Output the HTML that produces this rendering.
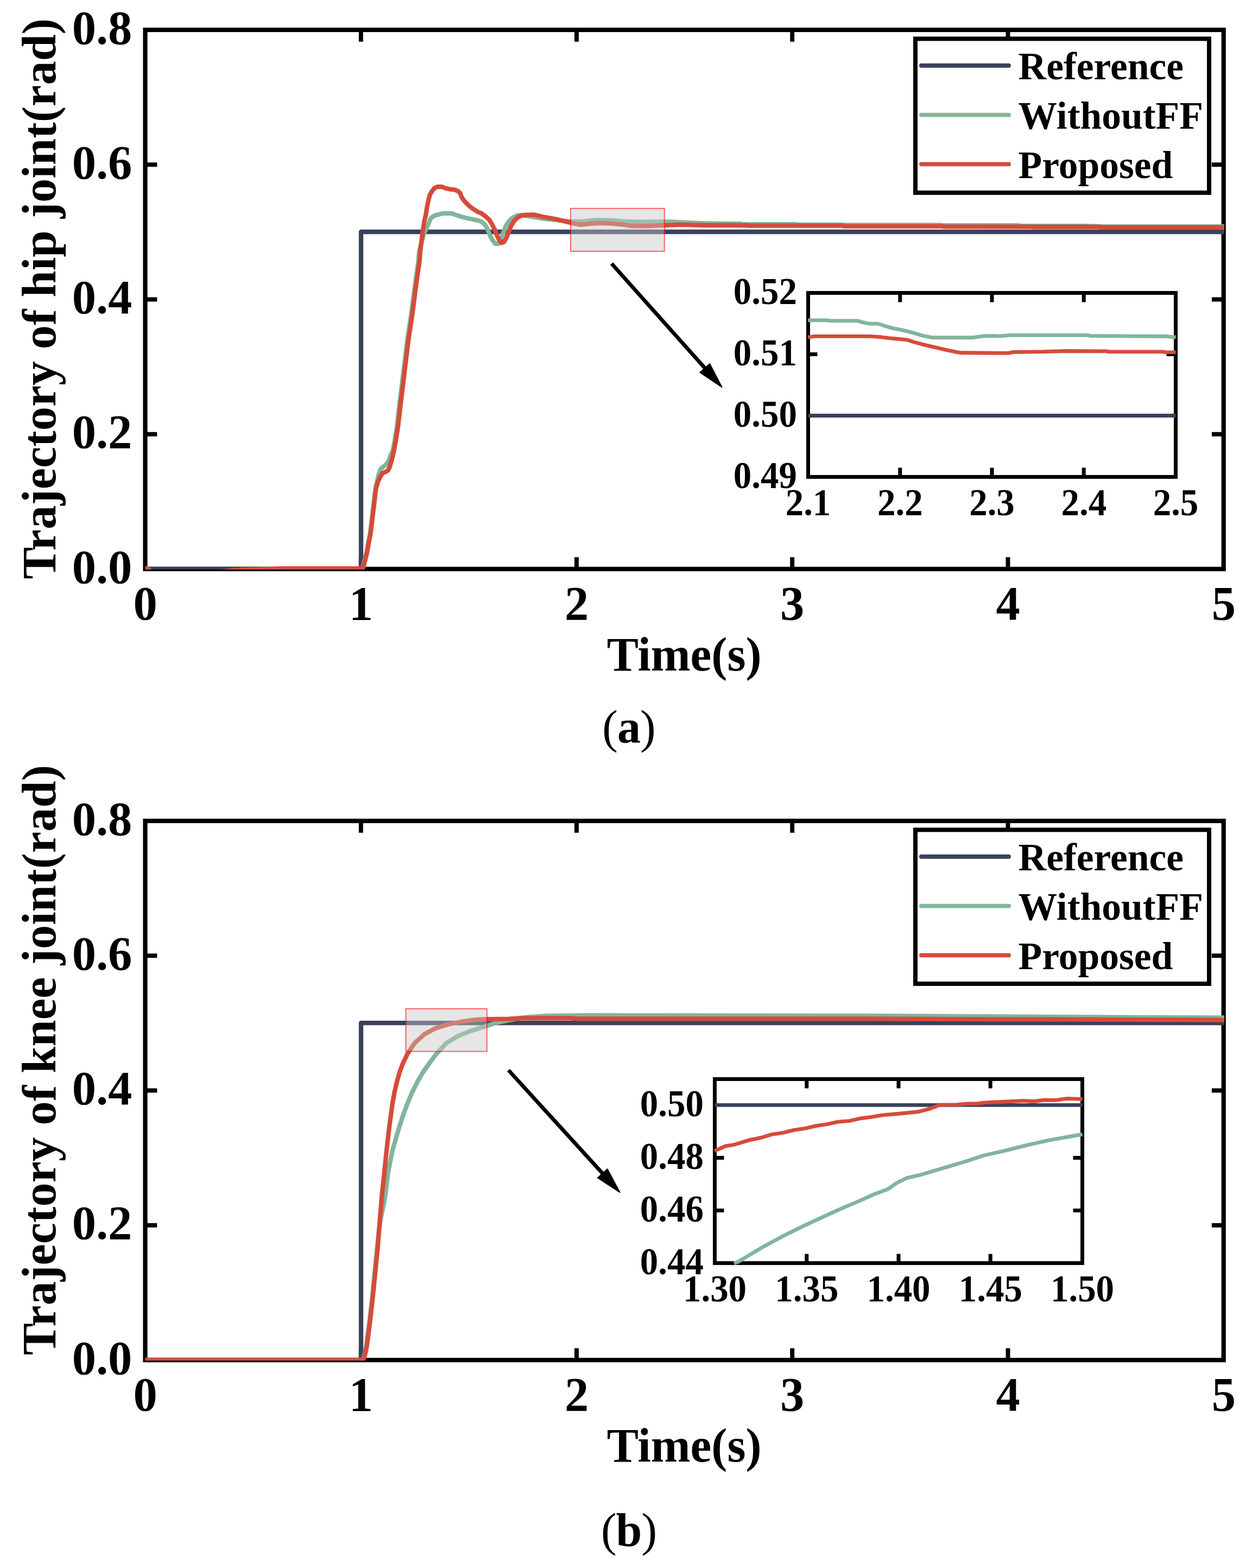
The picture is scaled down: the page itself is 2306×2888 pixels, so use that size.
<!DOCTYPE html><html><head><meta charset="utf-8"><title>Trajectory</title><style>html,body{margin:0;padding:0;background:#fff;}svg{display:block;}text{font-family:'Liberation Serif', 'Times New Roman', serif;fill:#000;}</style></head><body>
<svg width="2306" height="2888" viewBox="0 0 2306 2888">
<rect x="0" y="0" width="2306" height="2888" fill="#fff"/>
<rect x="267.5" y="55" width="1986.2" height="993" fill="none" stroke="#000" stroke-width="8.2"/>
<path d="M664.8 1048L664.8 1026.2 M664.8 55L664.8 76.8 M1062 1048L1062 1026.2 M1062 55L1062 76.8 M1459.2 1048L1459.2 1026.2 M1459.2 55L1459.2 76.8 M1856.5 1048L1856.5 1026.2 M1856.5 55L1856.5 76.8 M267.5 799.8L289.3 799.8 M2253.8 799.8L2231.9 799.8 M267.5 551.5L289.3 551.5 M2253.8 551.5L2231.9 551.5 M267.5 303.2L289.3 303.2 M2253.8 303.2L2231.9 303.2" stroke="#000" stroke-width="7.9" fill="none"/>
<clipPath id="clip0"><rect x="267.5" y="45" width="1987.5" height="1003.8"/></clipPath>
<g clip-path="url(#clip0)">
<polyline points="267.5,1047.9 665,1047.9 665,427 2255,427" fill="none" stroke="#3a415b" stroke-width="8.3" stroke-linejoin="round" />
<polyline points="267.5,1047.5 271.5,1047.5 279,1054.5 400,1054.5 431,1050.8 453,1049.6 494,1048.6 521,1047.7 667,1047.7 668.7,1043.3 670.5,1036.2 674.9,1018.6 678,1001 681.5,983.3 683.7,965.7 685.7,948.1 687.9,930.5 689.9,912.9 691.6,899.6 694.5,886.4 698,872 701.6,863.3 706,859.5 710,856.5 714,852 717,846 719.6,838 723.6,829.8 726.9,812.2 731.1,785.7 734.1,759.3 737.2,732.9 740.6,706.4 743.7,680 750.3,626.2 757.6,577.5 763.9,528.7 770.8,480 772,463.6 775,451 778,440.5 780.6,431 784.8,421.8 789.3,412.5 792.5,403.2 797,399 803.2,396.1 814.8,393.2 832.3,393.2 843.9,397.3 855.5,400.8 870,403.8 878.7,405.6 886.3,407.9 893.2,413.7 897.9,421.8 901.9,432.3 906.6,441.6 911.8,448.5 917.6,449.1 922.3,441 926.9,429.4 931,417.7 936.8,407.9 944.3,400.9 953,396.6 962.9,396.3 974.5,398.4 1000,402.6 1023,405 1050,408 1075.9,407.6 1096.8,405.5 1128.2,405.9 1149,408 1170,408.7 1232.7,408.3 1300,411.5 1364,412.1 1365,413.1 1467,413.1 1468,413.8 1553,413.8 1554,414.4 1732,414.4 1733,415.1 1877,415.1 1878,416 2002,416.2 2029,417.2 2255,417.2" fill="none" stroke="#82b59b" stroke-width="8.3" stroke-linejoin="round" />
<polyline points="267.5,1047 271.5,1047 279,1054 400,1054 431,1050.3 453,1049.1 494,1048.1 521,1047.2 668,1047.2 669.7,1043.3 671.5,1036.2 675.9,1018.6 679,1001 682.5,983.3 684.7,965.7 686.7,948.1 688.9,930.5 690.9,912.9 692.6,899.6 696.4,886.4 700.8,877.6 704.5,871.5 710.5,869 714.5,866.5 717.5,861 721.6,847.4 725.6,829.8 728.9,812.2 733.1,785.7 736.1,759.3 739.2,732.9 742.6,706.4 745.7,680 752.3,626.2 759.6,577.5 765.9,528.7 772.8,480 774,463.6 776.3,445 778.6,426.5 781.4,407.9 784.1,396.8 786.4,382.3 788.7,370.7 791.6,359 795.7,352.1 800.3,346.3 806.1,343.9 814.8,344.2 820.7,346.8 829.4,348.6 838.1,349.7 843.9,352.1 847.9,356.1 849.7,361.9 853.2,367.7 858.4,373.6 864.2,379.4 870,383.8 878.7,389.5 887.4,393.4 894.4,398.6 900.8,404.4 906,412.5 910.7,421.8 914.7,432.3 918.8,441 923.4,447.4 928.1,445.6 932.7,438.1 936.8,427.6 941.4,416 946.7,407.3 953,400.9 960,396.8 970,395.7 982.9,395.3 1000,399.4 1023.6,403.5 1044.5,408.7 1057,411.8 1069.6,413.9 1086.4,411.8 1107.3,410.8 1128.2,411.8 1149,413.9 1161.6,416 1190.9,416.4 1222.2,415 1253.6,413.9 1300,415 1377,414.8 1378,415.6 1553,415.6 1554,416.6 1737,416.6 1738,417.4 1900,417.6 1901,418 2027,418 2028,419 2255,419" fill="none" stroke="#d64b3a" stroke-width="8.3" stroke-linejoin="round" />
</g>
<text x="267.5" y="1141" font-size="88.5" font-weight="bold" text-anchor="middle" >0</text>
<text x="664.8" y="1141" font-size="88.5" font-weight="bold" text-anchor="middle" >1</text>
<text x="1062" y="1141" font-size="88.5" font-weight="bold" text-anchor="middle" >2</text>
<text x="1459.2" y="1141" font-size="88.5" font-weight="bold" text-anchor="middle" >3</text>
<text x="1856.5" y="1141" font-size="88.5" font-weight="bold" text-anchor="middle" >4</text>
<text x="2253.8" y="1141" font-size="88.5" font-weight="bold" text-anchor="middle" >5</text>
<text x="243.3" y="1073.5" font-size="88.5" font-weight="bold" text-anchor="end" >0.0</text>
<text x="243.3" y="825.2" font-size="88.5" font-weight="bold" text-anchor="end" >0.2</text>
<text x="243.3" y="577" font-size="88.5" font-weight="bold" text-anchor="end" >0.4</text>
<text x="243.3" y="328.8" font-size="88.5" font-weight="bold" text-anchor="end" >0.6</text>
<text x="243.3" y="80.5" font-size="88.5" font-weight="bold" text-anchor="end" >0.8</text>
<text x="0" y="0" font-size="88.5" font-weight="bold" text-anchor="middle" transform="translate(1260.1,1235) scale(0.988,1)">Time(s)</text>
<text x="0" y="0" font-size="88.5" font-weight="bold" text-anchor="middle" transform="translate(102,550.2) rotate(-90)">Trajectory of hip joint(rad)</text>
<rect x="1051" y="383.9" width="172.8" height="78.9" fill="rgb(199,199,199)" fill-opacity="0.44" stroke="#ff0000" stroke-opacity="0.57" stroke-width="2.1"/>
<line x1="1126.5" y1="485.5" x2="1300.9" y2="680.9" stroke="#000" stroke-width="7"/>
<polygon points="1329.5,713 1289.3,685.9 1307.2,669.9" fill="#000" stroke="#000" stroke-width="2" stroke-linejoin="round"/>
<rect x="1686" y="71.4" width="541" height="283.5" fill="#fff" stroke="#000" stroke-width="8"/>
<line x1="1697" y1="120.8" x2="1858" y2="120.8" stroke="#3a415b" stroke-width="7.9" stroke-linecap="round"/>
<text x="1875.6" y="145.8" font-size="71.5" font-weight="bold" text-anchor="start" >Reference</text>
<line x1="1697" y1="211.6" x2="1858" y2="211.6" stroke="#82b59b" stroke-width="7.9" stroke-linecap="round"/>
<text x="1875.6" y="237" font-size="71.5" font-weight="bold" text-anchor="start" >WithoutFF</text>
<line x1="1697" y1="302.4" x2="1858" y2="302.4" stroke="#d64b3a" stroke-width="7.9" stroke-linecap="round"/>
<text x="1875.6" y="327.6" font-size="71.5" font-weight="bold" text-anchor="start" >Proposed</text>
<rect x="1488.5" y="539.5" width="677" height="338.9" fill="#fff" stroke="#000" stroke-width="7"/>
<path d="M1657.8 878.4L1657.8 861.4 M1657.8 539.5L1657.8 556.5 M1827 878.4L1827 861.4 M1827 539.5L1827 556.5 M1996.2 878.4L1996.2 861.4 M1996.2 539.5L1996.2 556.5 M1488.5 652.5L1505.5 652.5 M2165.5 652.5L2148.5 652.5 M1488.5 765.4L1505.5 765.4 M2165.5 765.4L2148.5 765.4" stroke="#000" stroke-width="7" fill="none"/>
<polyline points="1488.5,765.5 2165.5,765.5" fill="none" stroke="#3a415b" stroke-width="6.9" stroke-linejoin="round" />
<polyline points="1488.1,589.9 1524.7,589.9 1528.8,590.9 1579.6,590.9 1587.7,593.4 1599.9,596 1618.2,596.4 1630.4,600.5 1642.6,604.1 1662.9,608.2 1683.3,613.3 1699.5,618.4 1717.8,621.8 1791,621.8 1805.2,619.8 1813.3,618.8 1830,618.8 1840.3,619.1 1860.7,617.4 2005,617.4 2007,618.5 2076.1,619.1 2147.2,619.5 2165.5,621.1" fill="none" stroke="#82b59b" stroke-width="6.9" stroke-linejoin="round" />
<polyline points="1488.1,621.2 1500.3,619.4 1602,619.4 1622.3,620.8 1642.6,623.3 1671.1,625.9 1683.3,630 1703.6,635.4 1723.9,640.1 1744.2,644.8 1768.6,649.7 1830,650.3 1856.6,650.4 1866.7,648.5 1917.6,647.9 1964.3,646.5 2039.5,646.9 2041.5,647.9 2143.2,647.9 2145.2,648.9 2165.5,648.9" fill="none" stroke="#d64b3a" stroke-width="6.9" stroke-linejoin="round" />
<text x="0" y="0" font-size="70.5" font-weight="bold" text-anchor="middle" transform="translate(1488.5,949.4) scale(0.95,1)">2.1</text>
<text x="0" y="0" font-size="70.5" font-weight="bold" text-anchor="middle" transform="translate(1657.8,949.4) scale(0.95,1)">2.2</text>
<text x="0" y="0" font-size="70.5" font-weight="bold" text-anchor="middle" transform="translate(1827,949.4) scale(0.95,1)">2.3</text>
<text x="0" y="0" font-size="70.5" font-weight="bold" text-anchor="middle" transform="translate(1996.3,949.4) scale(0.95,1)">2.4</text>
<text x="0" y="0" font-size="70.5" font-weight="bold" text-anchor="middle" transform="translate(2165.5,949.4) scale(0.95,1)">2.5</text>
<text x="0" y="0" font-size="70.5" font-weight="bold" text-anchor="end" transform="translate(1468,560) scale(0.95,1)">0.52</text>
<text x="0" y="0" font-size="70.5" font-weight="bold" text-anchor="end" transform="translate(1468,673) scale(0.95,1)">0.51</text>
<text x="0" y="0" font-size="70.5" font-weight="bold" text-anchor="end" transform="translate(1468,785.9) scale(0.95,1)">0.50</text>
<text x="0" y="0" font-size="70.5" font-weight="bold" text-anchor="end" transform="translate(1468,898.9) scale(0.95,1)">0.49</text>
<text x="1158" y="1368" font-size="86" text-anchor="middle" letter-spacing="-1"><tspan>(</tspan><tspan font-weight="bold">a</tspan><tspan>)</tspan></text>
<rect x="267.5" y="1512" width="1986.2" height="993" fill="none" stroke="#000" stroke-width="8.2"/>
<path d="M664.8 2505L664.8 2483.2 M664.8 1512L664.8 1533.8 M1062 2505L1062 2483.2 M1062 1512L1062 1533.8 M1459.2 2505L1459.2 2483.2 M1459.2 1512L1459.2 1533.8 M1856.5 2505L1856.5 2483.2 M1856.5 1512L1856.5 1533.8 M267.5 2256.8L289.3 2256.8 M2253.8 2256.8L2231.9 2256.8 M267.5 2008.5L289.3 2008.5 M2253.8 2008.5L2231.9 2008.5 M267.5 1760.2L289.3 1760.2 M2253.8 1760.2L2231.9 1760.2" stroke="#000" stroke-width="7.9" fill="none"/>
<clipPath id="clip1457"><rect x="267.5" y="1502" width="1987.5" height="1003.8"/></clipPath>
<g clip-path="url(#clip1457)">
<polyline points="267.5,2504.9 665,2504.9 665,1884.2 2255,1884.2" fill="none" stroke="#3a415b" stroke-width="8.3" stroke-linejoin="round" />
<polyline points="267.5,2504.9 667,2504.9 669.3,2501.4 670.7,2497.9 672.4,2490.9 674.5,2480 676.3,2467 681.6,2425.3 686.2,2383.5 690.3,2341.8 694.5,2300 698.1,2265 701,2245.3 705.5,2224 709.4,2203.5 714.4,2161.8 722.6,2120 735.5,2075.2 742.5,2054 750.1,2033.5 759,2012 769.3,1991.7 779,1975 789.6,1960 802.6,1942.4 822.1,1921.3 843.3,1908.3 867.6,1898.5 892,1891 913,1884 948,1877 954,1875.3 973.6,1873.2 994.5,1872 1007,1871 1075.8,1870.2 1600,1871 2255,1874.5" fill="none" stroke="#82b59b" stroke-width="8.3" stroke-linejoin="round" />
<polyline points="267.5,2504.9 668,2504.9 670.3,2501.4 671.7,2497.9 673.4,2490.9 675.5,2480 677.3,2467 682.6,2425.3 687.2,2383.5 691.3,2341.8 695.5,2300 699.8,2245.3 703.2,2203.5 707.6,2161.8 711.9,2120 717.1,2075.2 722.7,2033.5 726.5,2012 731.3,1991.7 736,1975 741.5,1960 750.6,1940.8 763.6,1921.3 781.5,1905 802.6,1893.7 827,1886.3 851.4,1881.5 875.8,1878.2 898,1877.1 936.5,1876.7 959.7,1875.4 1052.6,1875.4 1064,1876.5 1600,1876.5 2255,1878.6" fill="none" stroke="#d64b3a" stroke-width="8.3" stroke-linejoin="round" />
</g>
<text x="267.5" y="2598" font-size="88.5" font-weight="bold" text-anchor="middle" >0</text>
<text x="664.8" y="2598" font-size="88.5" font-weight="bold" text-anchor="middle" >1</text>
<text x="1062" y="2598" font-size="88.5" font-weight="bold" text-anchor="middle" >2</text>
<text x="1459.2" y="2598" font-size="88.5" font-weight="bold" text-anchor="middle" >3</text>
<text x="1856.5" y="2598" font-size="88.5" font-weight="bold" text-anchor="middle" >4</text>
<text x="2253.8" y="2598" font-size="88.5" font-weight="bold" text-anchor="middle" >5</text>
<text x="243.3" y="2530.5" font-size="88.5" font-weight="bold" text-anchor="end" >0.0</text>
<text x="243.3" y="2282.2" font-size="88.5" font-weight="bold" text-anchor="end" >0.2</text>
<text x="243.3" y="2034" font-size="88.5" font-weight="bold" text-anchor="end" >0.4</text>
<text x="243.3" y="1785.8" font-size="88.5" font-weight="bold" text-anchor="end" >0.6</text>
<text x="243.3" y="1537.5" font-size="88.5" font-weight="bold" text-anchor="end" >0.8</text>
<text x="0" y="0" font-size="88.5" font-weight="bold" text-anchor="middle" transform="translate(1260.1,2692) scale(0.988,1)">Time(s)</text>
<text x="0" y="0" font-size="88.5" font-weight="bold" text-anchor="middle" transform="translate(102,1952.4) rotate(-90)">Trajectory of knee joint(rad)</text>
<rect x="747.5" y="1858" width="149.3" height="78.6" fill="rgb(199,199,199)" fill-opacity="0.44" stroke="#ff0000" stroke-opacity="0.57" stroke-width="2.1"/>
<line x1="936.5" y1="1971" x2="1112.5" y2="2164.2" stroke="#000" stroke-width="7"/>
<polygon points="1141.5,2196 1101,2169.3 1118.7,2153.2" fill="#000" stroke="#000" stroke-width="2" stroke-linejoin="round"/>
<rect x="1686" y="1528.4" width="541" height="283.5" fill="#fff" stroke="#000" stroke-width="8"/>
<line x1="1697" y1="1577.8" x2="1858" y2="1577.8" stroke="#3a415b" stroke-width="7.9" stroke-linecap="round"/>
<text x="1875.6" y="1602.8" font-size="71.5" font-weight="bold" text-anchor="start" >Reference</text>
<line x1="1697" y1="1668.6" x2="1858" y2="1668.6" stroke="#82b59b" stroke-width="7.9" stroke-linecap="round"/>
<text x="1875.6" y="1694" font-size="71.5" font-weight="bold" text-anchor="start" >WithoutFF</text>
<line x1="1697" y1="1759.4" x2="1858" y2="1759.4" stroke="#d64b3a" stroke-width="7.9" stroke-linecap="round"/>
<text x="1875.6" y="1784.6" font-size="71.5" font-weight="bold" text-anchor="start" >Proposed</text>
<rect x="1316.5" y="1987.5" width="677" height="338.9" fill="#fff" stroke="#000" stroke-width="7"/>
<path d="M1485.8 2326.4L1485.8 2309.4 M1485.8 1987.5L1485.8 2004.5 M1655 2326.4L1655 2309.4 M1655 1987.5L1655 2004.5 M1824.2 2326.4L1824.2 2309.4 M1824.2 1987.5L1824.2 2004.5 M1316.5 2132.4L1333.5 2132.4 M1993.5 2132.4L1976.5 2132.4 M1316.5 2229.4L1333.5 2229.4 M1993.5 2229.4L1976.5 2229.4" stroke="#000" stroke-width="7" fill="none"/>
<polyline points="1316.5,2035.4 1993.5,2035.4" fill="none" stroke="#3a415b" stroke-width="6.9" stroke-linejoin="round" />
<polyline points="1352,2326.4 1359.1,2324.3 1378.2,2312.9 1405.5,2296.5 1438.3,2278.7 1479.2,2258.3 1514.7,2241.9 1547.5,2226.9 1582.9,2211.9 1610.2,2199.6 1634.8,2190.6 1651.2,2179.1 1670.3,2169.6 1697.6,2163.3 1719.4,2156.7 1746.7,2148.6 1780,2138.7 1812.6,2128 1853.3,2118.9 1893.9,2108.7 1934.6,2099.6 1975.2,2092.5 1993.5,2089.4" fill="none" stroke="#82b59b" stroke-width="6.9" stroke-linejoin="round" />
<polyline points="1316.1,2119.9 1336.4,2110.8 1350.7,2108.7 1381.1,2099.6 1401.5,2095.5 1421.8,2089.4 1442.1,2086.4 1462.4,2081.3 1482.8,2078.3 1503.1,2073.6 1523.4,2070.7 1543.7,2066.1 1564.1,2064.6 1584.4,2060 1604.7,2057.3 1625,2053.9 1650,2051.8 1690.7,2047.8 1711,2042.7 1731.3,2035 1761.8,2034.6 1782.1,2032.9 1802.4,2032.5 1812.6,2030.9 1843.1,2029.5 1883.7,2027.4 1904.1,2028.5 1924.4,2026 1944.7,2026.4 1965,2023.4 1993.5,2024.4" fill="none" stroke="#d64b3a" stroke-width="6.9" stroke-linejoin="round" />
<text x="0" y="0" font-size="70.5" font-weight="bold" text-anchor="middle" transform="translate(1316.5,2397.4) scale(0.95,1)">1.30</text>
<text x="0" y="0" font-size="70.5" font-weight="bold" text-anchor="middle" transform="translate(1485.8,2397.4) scale(0.95,1)">1.35</text>
<text x="0" y="0" font-size="70.5" font-weight="bold" text-anchor="middle" transform="translate(1655,2397.4) scale(0.95,1)">1.40</text>
<text x="0" y="0" font-size="70.5" font-weight="bold" text-anchor="middle" transform="translate(1824.3,2397.4) scale(0.95,1)">1.45</text>
<text x="0" y="0" font-size="70.5" font-weight="bold" text-anchor="middle" transform="translate(1993.5,2397.4) scale(0.95,1)">1.50</text>
<text x="0" y="0" font-size="70.5" font-weight="bold" text-anchor="end" transform="translate(1296,2055.9) scale(0.95,1)">0.50</text>
<text x="0" y="0" font-size="70.5" font-weight="bold" text-anchor="end" transform="translate(1296,2152.9) scale(0.95,1)">0.48</text>
<text x="0" y="0" font-size="70.5" font-weight="bold" text-anchor="end" transform="translate(1296,2249.9) scale(0.95,1)">0.46</text>
<text x="0" y="0" font-size="70.5" font-weight="bold" text-anchor="end" transform="translate(1296,2346.9) scale(0.95,1)">0.44</text>
<text x="1158" y="2847" font-size="86" text-anchor="middle" letter-spacing="-1"><tspan>(</tspan><tspan font-weight="bold">b</tspan><tspan>)</tspan></text>
</svg></body></html>
